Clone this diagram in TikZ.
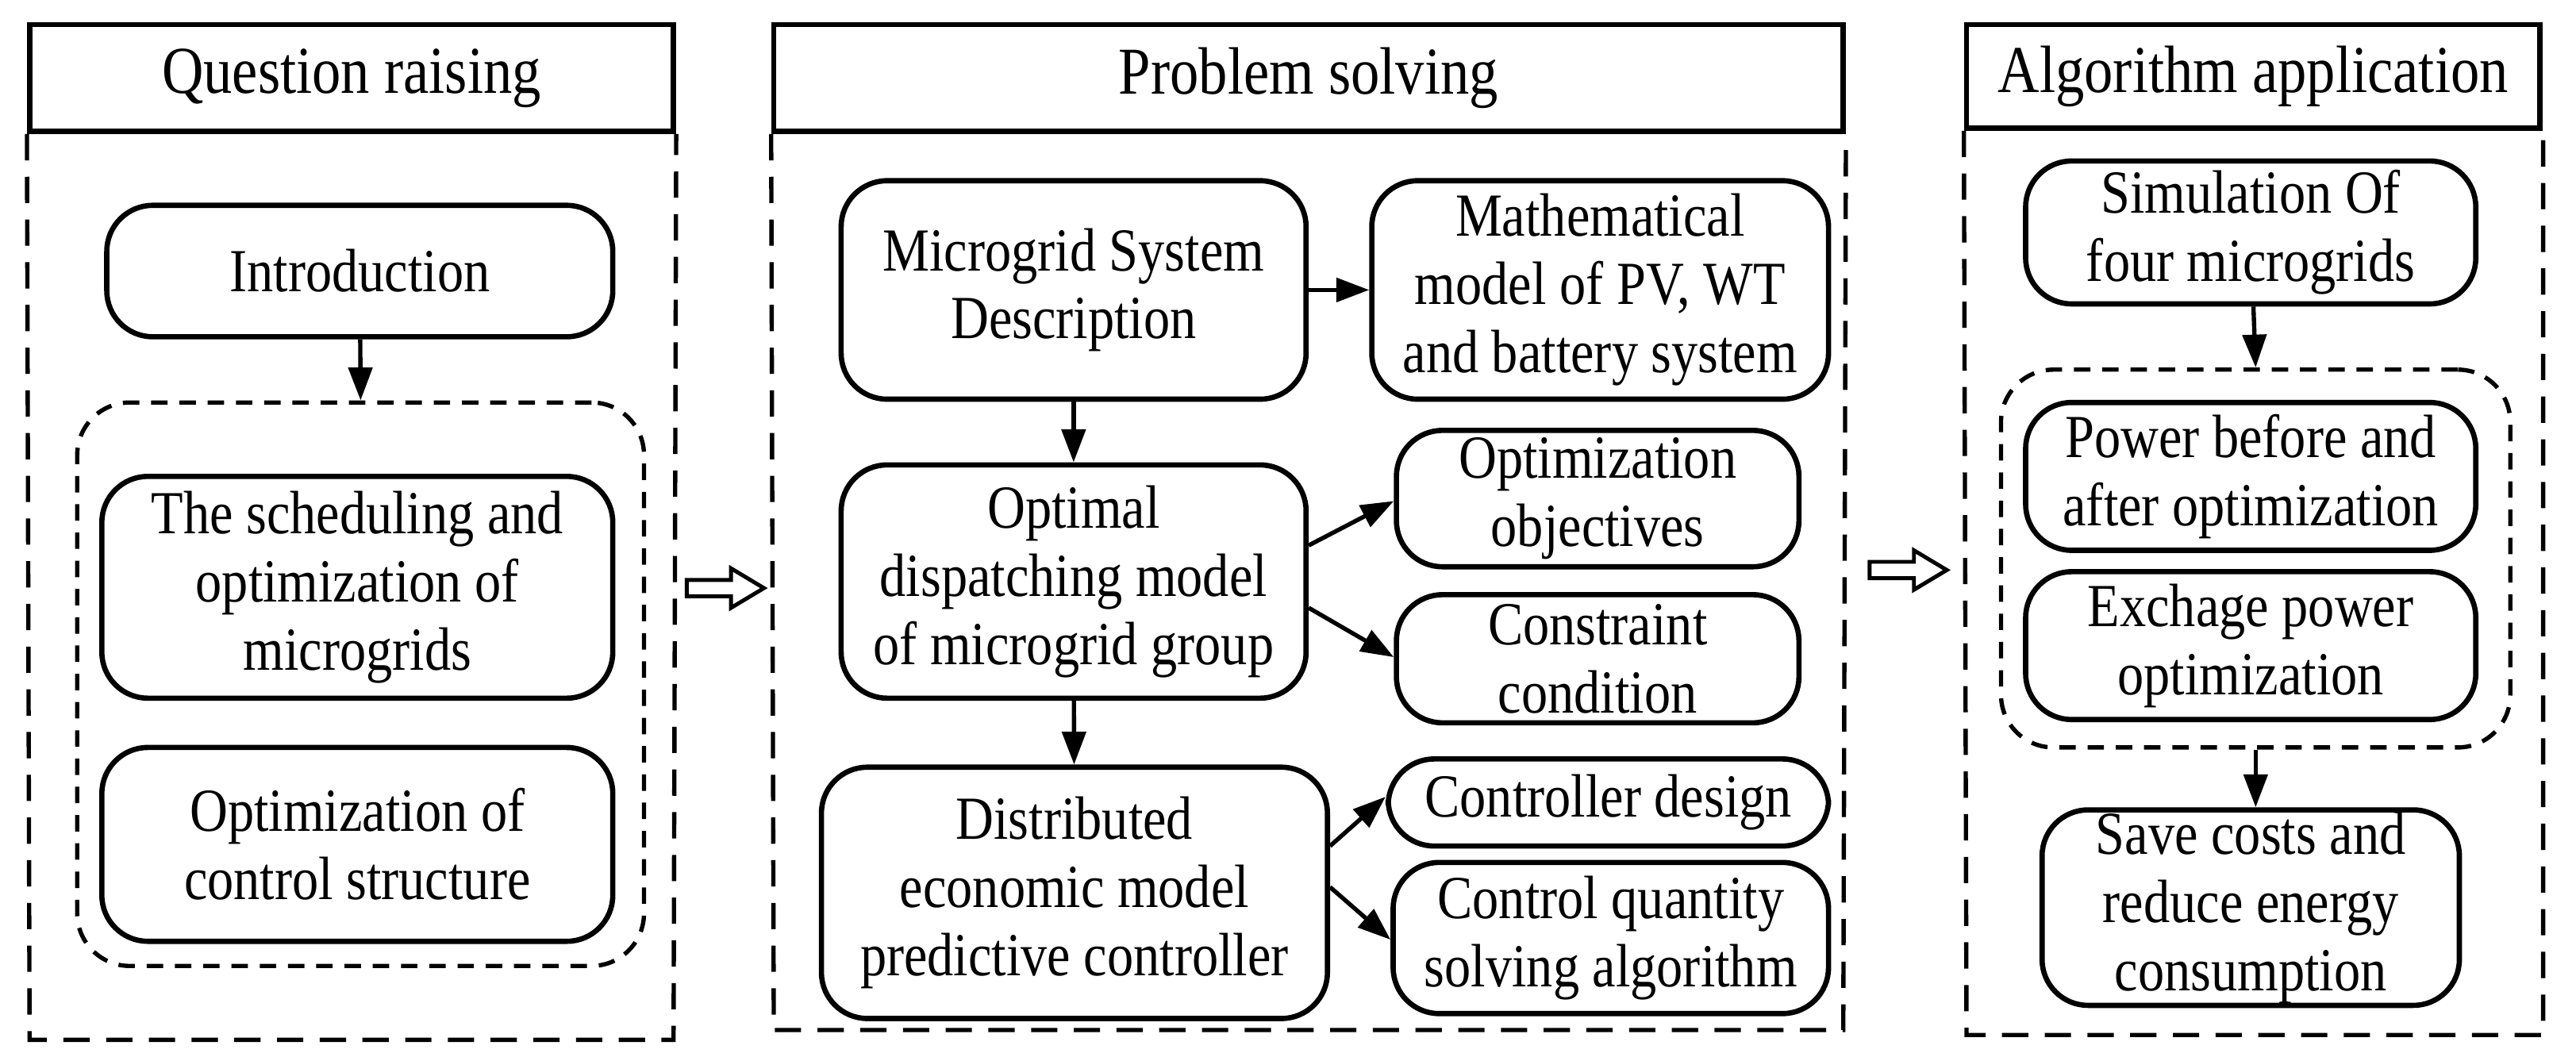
\documentclass[tikz,border=0pt]{standalone}
\usepackage{fontspec}
\setmainfont{Liberation Serif}[FakeStretch=0.86]
\usetikzlibrary{arrows.meta}
\tikzset{
  px/.style={x=0.25mm,y=-0.25mm},
  rbox/.style={draw,line width=0.8mm,rounded corners=7mm,align=center,inner sep=0pt,font=\fontsize{26.5}{29.5}\selectfont},
  hbox/.style={draw,line width=0.8mm,align=center,inner sep=0pt,font=\fontsize{29}{32}\selectfont},
  dbox/.style={draw,line width=0.65mm,dash pattern=on 4mm off 2.5mm},
  dgrp/.style={draw,line width=0.65mm,dash pattern=on 2.5mm off 1.8mm,rounded corners=8mm,inner sep=0pt},
  arr/.style={line width=0.65mm,-{Triangle[length=5mm,width=3.6mm]}},
  hollow/.style={draw,line width=0.6mm,line join=miter},
}
\newcommand\Bx[7][rbox]{%
  \node[#1,minimum width={(#4-#3)*0.25mm},minimum height={(#6-#5)*0.25mm}] (#2) at ({(#3+#4)/2},{(#5+#6)/2}) {#7};}
\begin{document}
\begin{tikzpicture}[px]
\useasboundingbox (0,0) rectangle (1568,643);
% headers
\Bx[hbox]{hq}{18}{410}{15}{80}{Question raising}
\Bx[hbox]{hp}{471}{1122}{15}{80}{Problem solving}
\Bx[hbox]{ha}{1197}{1546}{15}{78}{Algorithm application}
% outer dashed columns
\draw[dbox] (hq.south west) -- (18,633) -- (410,633) -- (hq.south east);
\draw[dbox] (hp.south west) -- (471,627) -- (1122,627) -- (hp.south east);
\draw[dbox] (ha.south west) -- (1197,630) -- (1548,630) -- (1548,78);
% Q column
\Bx{intro}{65}{373}{125}{205}{Introduction}
\Bx[dgrp]{gq}{47}{392}{245}{588}{}
\Bx{sched}{62}{373}{290}{425}{The scheduling and\\optimization of\\microgrids}
\Bx{ctrl}{62}{373}{455}{573}{Optimization of\\control structure}
\draw[arr] (intro) -- (gq.north);
% P column
\Bx{msd}{512}{795}{110}{243}{Microgrid System\\Description}
\Bx{math}{835}{1113}{110}{243}{Mathematical\\model of PV, WT\\and battery system}
\Bx{odm}{512}{795}{283}{425}{Optimal\\dispatching model\\of microgrid group}
\Bx{oo}{850}{1095}{262}{345}{Optimization\\objectives}
\Bx{cc}{850}{1095}{362}{440}{Constraint\\condition}
\Bx{dmpc}{500}{808}{467}{620}{Distributed\\economic model\\predictive controller}
\Bx{cd}{845}{1113}{462}{515}{Controller design}
\Bx{cq}{848}{1113}{525}{617}{Control quantity\\solving algorithm}
\draw[arr] (msd) -- (math);
\draw[arr] (msd) -- (odm);
\draw[arr] (odm) -- (dmpc);
\draw[arr] (odm.east |- 0,332) -- (oo.west |- 0,305);
\draw[arr] (odm.east |- 0,370) -- (cc.west |- 0,400);
\draw[arr] (dmpc.east |- 0,515) -- (cd.west |- 0,485);
\draw[arr] (dmpc.east |- 0,540) -- (cq.west |- 0,572);
% A column
\Bx{sim}{1233}{1507}{98}{185}{Simulation Of\\four microgrids}
\Bx[dgrp]{ga}{1218}{1528}{225}{455}{}
\Bx{pow}{1233}{1507}{245}{335}{Power before and\\after optimization}
\Bx{exc}{1233}{1507}{348}{438}{Exchage power\\optimization}
\Bx{save}{1243}{1497}{493}{612}{Save costs and\\reduce energy\\consumption}
\draw[arr] (sim) -- (ga.north);
\draw[arr] (ga.south) -- (ga.south |- save.north);
% hollow arrows
\coordinate (h1) at (418,358);
\coordinate (h2) at (1138,347);
\foreach \c in {h1,h2}
  \draw[hollow] (\c) ++(0,-5) -- ++(27,0) -- ++(0,-7) -- ++(20,12) -- ++(-20,12) -- ++(0,-7) -- ++(-27,0) -- cycle;
\end{tikzpicture}
\end{document}
